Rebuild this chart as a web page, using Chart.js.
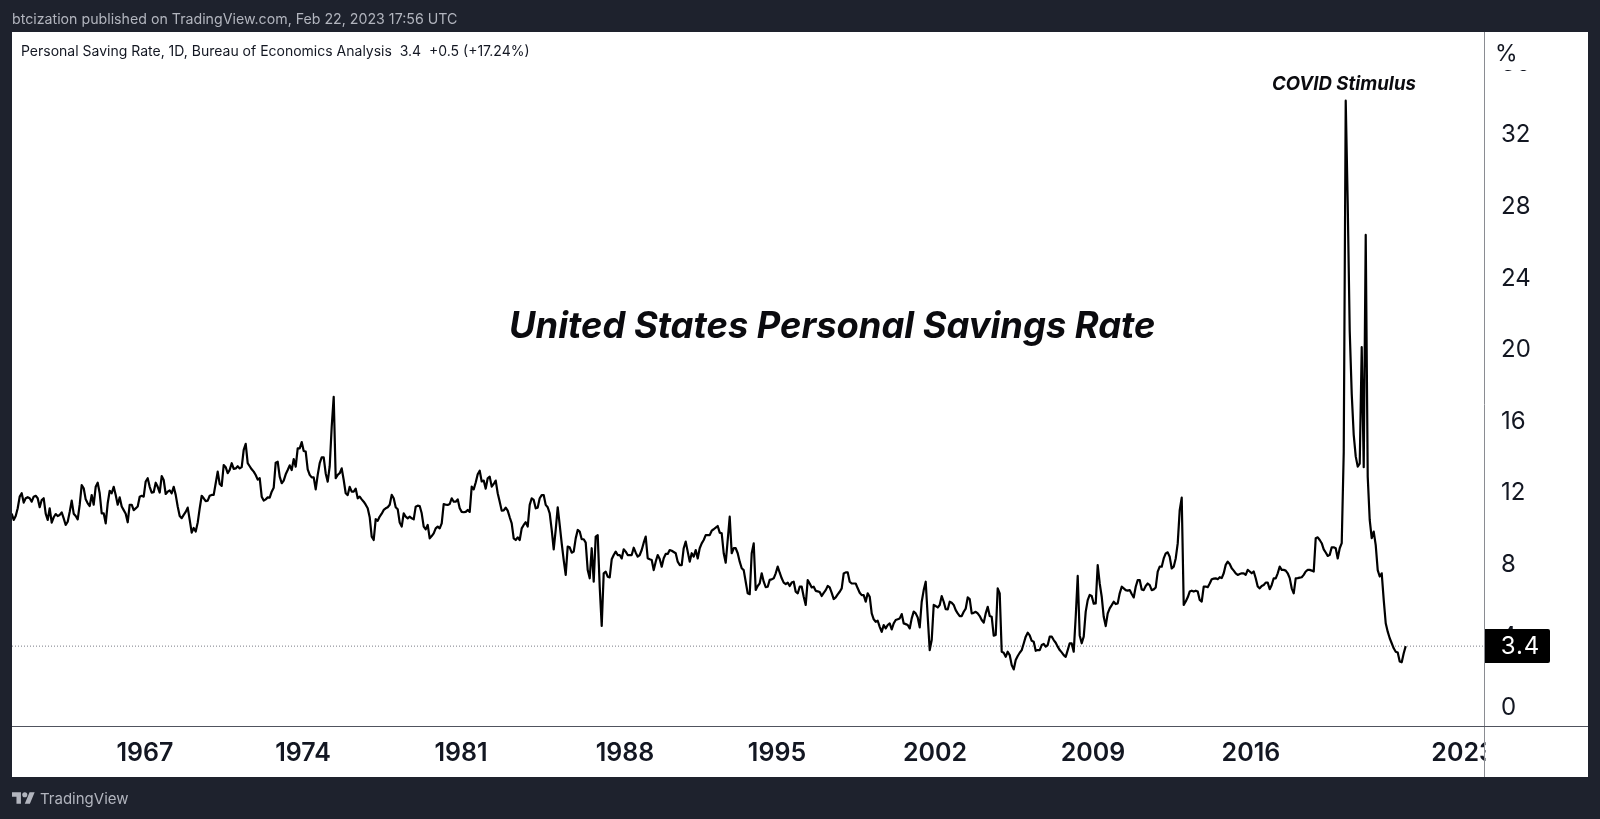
<!DOCTYPE html>
<html><head><meta charset="utf-8">
<script src="https://cdn.jsdelivr.net/npm/chart.js@4/dist/chart.umd.min.js"></script>
<style>
html,body{margin:0;padding:0;background:#1e222d;width:1600px;height:819px;overflow:hidden}
#wrap{position:relative;width:1600px;height:819px}
canvas{position:absolute;left:0;top:0}
.t{position:absolute;white-space:pre;font-family:Inter,sans-serif;line-height:1}
</style></head><body>
<div id="wrap"><canvas id="c" width="1600" height="819"></canvas>
<div class="t" style="left:12px;top:12px;font-size:14.2px;color:#b2b5be">btcization published on TradingView.com, Feb 22, 2023 17:56 UTC</div>
<div class="t" style="left:21px;top:44px;font-size:14px;color:#131722">Personal Saving Rate, 1D, Bureau of Economics Analysis  3.4  +0.5 (+17.24%)</div>
<div class="t" style="left:509px;top:307px;font-size:36.3px;font-weight:700;font-style:italic;color:#0b0b0f">United States Personal Savings Rate</div>
<div class="t" style="left:1272px;top:74px;font-size:18.6px;font-weight:700;font-style:italic;color:#0b0b0f">COVID Stimulus</div>
<div class="t" style="left:1495px;top:42px;font-size:23px;color:#131722">%</div>
<div style="position:absolute;left:1485px;top:629px;width:65px;height:34px;background:#000;border-radius:0 2px 2px 0"></div>
<div class="t" style="left:1487px;top:634px;width:67px;text-align:center;font-size:24px;letter-spacing:1px;color:#fff">3.4</div>
<svg style="position:absolute;left:12px;top:792px" width="23" height="12" viewBox="0 4 36 18"><path fill="#b2b5be" d="M14 22H7V11H0V4h14v18zM28 22h-8l7.5-18h8L28 22z"/><circle fill="#b2b5be" cx="20" cy="8" r="4"/></svg>
<div class="t" style="left:40px;top:791px;font-size:15px;color:#b2b5be">TradingView</div>
</div>
<script>
const firstDate = 1961.005;
const sampleStep = 0.088615;
const evenSamples = [
11.1,10.45,11.1,11.94,11.66,11.66,11.75,11.66,11.56,10.8,11.1,10.6,10.67,10.87,10.17,10.9,10.8,10.48,12.4,11.6,
11.23,11.3,12.53,10.82,10.26,12.08,12.3,11.3,11.2,10.8,11.3,11.0,11.2,11.8,12.6,12.3,12.0,12.3,12.9,11.9,
12.1,12.3,11.2,10.55,10.9,10.45,10.0,10.3,11.8,11.5,11.8,11.85,13.15,12.35,13.4,13.25,13.3,13.45,13.4,14.7,
13.45,13.15,12.7,11.75,11.6,11.7,12.25,13.7,12.5,13.0,13.5,13.85,14.45,14.8,14.27,12.97,12.83,12.97,13.95,13.05,
13.45,17.33,12.97,13.33,11.94,12.3,12.03,11.66,11.6,11.3,10.6,9.33,10.4,10.8,11.1,11.3,11.66,11.05,
10.08,10.63,10.63,10.48,11.25,10.82,9.93,9.42,9.7,10.08,10.26,11.3,11.34,11.47,11.6,10.9,10.9,10.9,12.16,13.0,
12.6,12.2,12.87,12.46,11.94,10.97,11.14,10.6,9.42,9.48,9.98,10.32,11.29,11.57,11.14,11.84,11.29,10.82,8.81,11.16,
9.14,7.38,8.92,8.68,9.89,9.37,9.18,7.19,7.0,9.6,4.53,7.56,7.24,8.49,8.49,8.3,8.68,8.49,8.9,8.4,
8.77,9.52,8.25,7.65,8.49,7.84,8.55,8.77,8.66,8.12,7.93,9.24,8.12,8.4,8.3,9.14,9.6,9.6,9.93,10.11,
9.7,8.06,10.63,8.87,8.59,7.75,7.0,6.3,9.14,6.76,7.47,6.69,7.1,7.19,7.84,7.19,6.87,6.76,7.0,6.35,
6.72,5.7,6.9,6.72,6.46,6.2,6.53,6.68,6.03,6.29,6.63,7.52,7.0,6.9,6.63,6.25,5.88,6.16,4.9,4.82,
4.2,4.39,4.67,4.67,4.9,5.19,4.63,4.39,5.33,5.0,5.88,7.0,3.18,5.7,5.56,6.2,5.46,5.88,5.7,5.23,
5.08,5.5,6.03,5.26,5.23,4.86,5.23,5.08,3.98,6.63,3.09,2.8,2.9,2.1,2.85,3.18,3.93,4.0,3.65,3.18,
3.46,3.37,3.93,3.74,3.37,3.05,2.8,3.56,3.09,7.32,3.56,5.33,6.26,5.77,7.93,6.16,4.52,5.51,5.88,5.79,
6.72,6.53,6.53,6.12,7.09,6.57,6.76,6.81,6.57,7.56,7.84,8.58,8.39,7.84,9.14,11.7,5.89,6.45,6.45,6.45,
5.89,6.73,6.9,7.17,7.14,7.2,7.94,7.99,7.62,7.38,7.47,7.38,7.57,7.57,6.73,6.76,6.95,6.58,7.19,7.47,
7.66,7.62,7.2,6.35,7.2,7.25,7.57,7.66,7.57,9.48,9.15,8.63,8.5,8.92,8.3,9.15,33.87,21.0,15.2,13.43,
20.1,26.37,10.45,9.8,7.65,7.47,4.68,3.84,3.28,3.04,2.5,3.4
];
const oddSamples = [
10.8,10.67,11.75,11.42,11.72,11.47,11.8,11.16,11.66,10.45,10.3,10.78,10.73,10.54,10.35,11.53,10.67,11.3,12.22,11.38,
11.84,12.3,11.94,10.82,11.38,11.94,11.84,11.71,11.0,10.32,11.3,11.1,11.75,11.75,12.78,11.98,12.53,11.98,12.68,12.03,
11.94,11.85,10.67,10.73,11.14,9.74,9.8,11.1,11.66,11.53,11.85,12.5,12.46,13.52,13.06,13.62,13.33,13.33,14.36,13.62,
13.28,12.96,12.78,11.53,11.71,12.03,13.65,12.87,12.65,13.24,13.24,13.43,14.45,14.3,13.28,12.83,12.16,13.62,13.95,12.59,
15.66,12.78,13.06,12.68,11.84,12.03,12.2,11.75,11.47,11.1,9.52,10.49,10.64,11.01,11.16,11.85,11.16,10.3,
10.82,10.54,10.54,11.19,11.23,10.08,10.17,9.55,9.98,9.98,11.34,11.29,11.66,11.47,11.1,10.88,11.01,12.31,12.54,13.2,
12.65,12.78,12.31,12.65,11.47,10.98,10.97,10.26,9.33,9.33,10.17,10.08,11.66,11.1,11.66,11.84,11.16,9.89,9.89,10.17,
8.21,8.96,8.62,9.42,9.8,9.37,7.65,8.87,9.52,6.72,7.47,7.28,8.25,8.68,8.49,8.81,8.49,8.49,8.62,8.49,
9.18,8.31,8.21,8.12,8.27,8.31,8.55,8.73,8.59,7.93,8.87,8.68,8.59,8.77,8.87,9.33,9.6,9.85,10.02,9.74,
8.59,9.33,8.59,8.87,8.12,7.65,6.35,8.59,6.54,6.91,7.0,6.72,7.13,7.47,7.5,6.95,6.95,6.95,6.44,6.72,
6.16,7.09,6.68,6.49,6.42,6.38,6.76,6.38,6.12,6.44,7.46,7.52,6.9,6.9,6.38,6.25,6.35,5.23,4.76,4.48,
4.58,4.58,4.33,4.86,4.95,4.67,4.58,4.95,5.23,4.45,6.53,5.04,3.74,5.64,5.7,5.88,5.45,5.82,5.41,5.08,
5.32,6.12,5.23,5.32,5.08,4.71,5.6,5.04,4.02,6.35,3.03,3.09,2.34,2.62,3.03,3.55,4.15,3.7,3.14,3.18,
3.52,3.46,3.93,3.59,3.18,2.9,3.18,3.55,5.04,4.0,3.93,5.97,6.2,5.79,6.9,5.04,5.23,5.69,5.75,6.35,
6.63,6.5,6.31,6.72,7.09,6.53,6.9,6.53,6.68,7.84,8.3,8.64,7.74,8.3,11.0,
5.7,6.13,6.5,6.5,5.98,6.73,6.69,7.14,7.19,7.25,7.47,8.12,7.75,7.47,7.43,7.47,7.66,7.47,7.19,6.63,
6.82,6.95,6.82,7.19,7.84,7.66,7.47,6.63,7.19,7.23,7.38,7.66,7.62,9.43,9.33,8.81,8.44,8.92,8.87,8.87,
14.2,28.1,17.5,14.0,13.6,13.4,12.87,9.43,9.04,7.29,5.98,4.21,3.56,3.09,2.54,3.0
];
const savingRate = evenSamples.flatMap((v,i)=> i < oddSamples.length ? [v, oddSamples[i]] : [v]);
const lastPriceValue = 3.4;
const xTickPositions = [1967,1974,1981,1988.27,1995,2002,2009,2016,2025.4];
const xTickLabels = ['1967','1974','1981','1988','1995','2002','2009','2016','2023'];
const yTickValues = [0,4,8,12,16,20,24,28,32,36];
const xMin = 1961.107, xMax = 2026.371, yMin = -1.0615, yMax = 37.709;

const panel = {
  id:'panel',
  beforeDraw(ch){const c=ch.ctx;c.save();c.fillStyle='#ffffff';c.fillRect(12,32,1576,745);c.restore();},
  afterDraw(ch){const c=ch.ctx;c.save();
    c.fillStyle='#ffffff';
    c.fillRect(1485.5,727,102.5,50);
    c.fillRect(1486,32,102,38);
    c.strokeStyle='#8a8c92';c.lineWidth=1;
    c.beginPath();c.moveTo(1484.5,32);c.lineTo(1484.5,777);c.stroke();
    c.strokeStyle='#50535e';
    c.beginPath();c.moveTo(12,726.5);c.lineTo(1588,726.5);c.stroke();
    c.restore();}
};

new Chart(document.getElementById('c'),{
  type:'line',
  data:{datasets:[
    {label:'Personal Saving Rate',data:savingRate.map((v,i)=>({x:firstDate+i*sampleStep,y:v})),
     borderColor:'#000',borderWidth:2.2,pointRadius:0,tension:0,borderJoinStyle:'round',order:1},
    {label:'Last',data:[{x:xMin,y:lastPriceValue},{x:xMax,y:lastPriceValue}],
     borderColor:'#787b86',borderWidth:1,borderDash:[1,2],pointRadius:0,order:2}
  ]},
  options:{
    responsive:false,animation:false,devicePixelRatio:1,
    layout:{padding:{left:12,top:32,right:12,bottom:42}},
    plugins:{legend:{display:false},tooltip:{enabled:false},title:{display:false}},
    scales:{
      x:{type:'linear',min:xMin,max:xMax,
        grid:{display:false,drawTicks:false},border:{display:false},
        afterFit(s){s.height=51;},
        afterBuildTicks(s){s.ticks=xTickPositions.map(v=>({value:v}));},
        ticks:{autoSkip:false,maxRotation:0,minRotation:0,padding:12,color:'#131722',
          font:{family:'Inter',size:25,weight:'600'},
          callback(v,i){return xTickLabels[i];}}},
      y:{type:'linear',position:'right',min:yMin,max:yMax,
        grid:{display:false,drawTicks:false},border:{display:false},
        afterFit(s){s.width=103;},
        afterBuildTicks(s){s.ticks=yTickValues.map(v=>({value:v}));},
        ticks:{autoSkip:false,padding:16,labelOffset:1,color:'#131722',
          font:{family:'Inter',size:24,weight:'400'},
          callback(v){return String(v);}}}
    }
  },
  plugins:[panel]
});
</script></body></html>
